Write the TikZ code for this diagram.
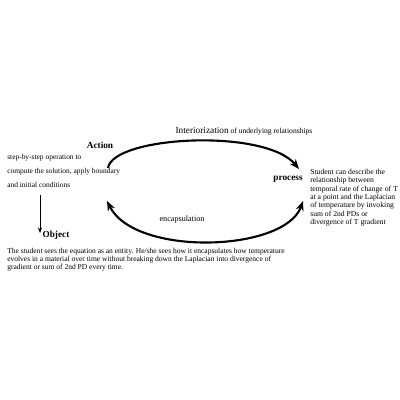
\documentclass[tikz,border=0pt]{standalone}
\usepackage{fontspec}
\setmainfont{Liberation Serif}
\usetikzlibrary{arrows.meta}
\begin{document}
\begin{tikzpicture}[x=0.025cm,y=-0.025cm]
\tikzset{stage/.style={inner sep=0pt, font=\fontsize{6.6}{7}\bfseries\selectfont},
  desc/.style={inner sep=0pt, anchor=north west, align=left},
  cyc/.style={line width=1.5pt, -{Stealth[length=7pt,width=5.5pt]}}}
\useasboundingbox (0,0) rectangle (400,400);
\node[stage] (action) at (100,145) {Action};
\node[stage] (process) at (288,179) {process};
\node[stage] (object) at (56,235) {Object};
\node[desc, font=\fontsize{5.3}{10}\selectfont] (actiontxt) at (7,154) {step-by-step operation to\\compute the solution, apply boundary\\and initial conditions};
\node[desc, font=\fontsize{5.45}{5.9}\selectfont] (processtxt) at (310,169) {Student can describe the\\relationship between\\temporal rate of change of T\\at a point and the Laplacian\\of temperature by invoking\\sum of 2nd PDs or\\divergence of T gradient};
\node[desc, font=\fontsize{5.35}{5.7}\selectfont] (objecttxt) at (7,248) {The student sees the equation as an entity. He/she sees how it encapsulates how temperature\\evolves in a material over time without breaking down the Laplacian into divergence of\\gradient or sum of 2nd PD every time.};
\node[inner sep=0pt] (interio) at (244,131) {\fontsize{6.6}{7}\selectfont Interiorization\fontsize{5.4}{6}\selectfont\ of underlying relationships};
\node[inner sep=0pt, font=\fontsize{5.8}{7}\selectfont] (encaps) at (182,220) {encapsulation};
\coordinate (a1) at (108,168);
\coordinate (p1) at (299,169);
\coordinate (p2) at (303,201);
\coordinate (a2) at (107,201);
\coordinate (o1) at (40,195);
\coordinate (o2) at (40,233);
\draw[cyc] (a1) .. controls (113,136) and (265,128) .. (p1);
\draw[cyc, {Stealth[length=7pt,width=5.5pt]}-{Stealth[length=7pt,width=5.5pt]}] (p2) .. controls (285,252) and (135,257) .. (a2);
\draw[line width=0.6pt, -{Stealth[length=4pt,width=3pt]}] (o1) -- (o2);
\end{tikzpicture}
\end{document}
